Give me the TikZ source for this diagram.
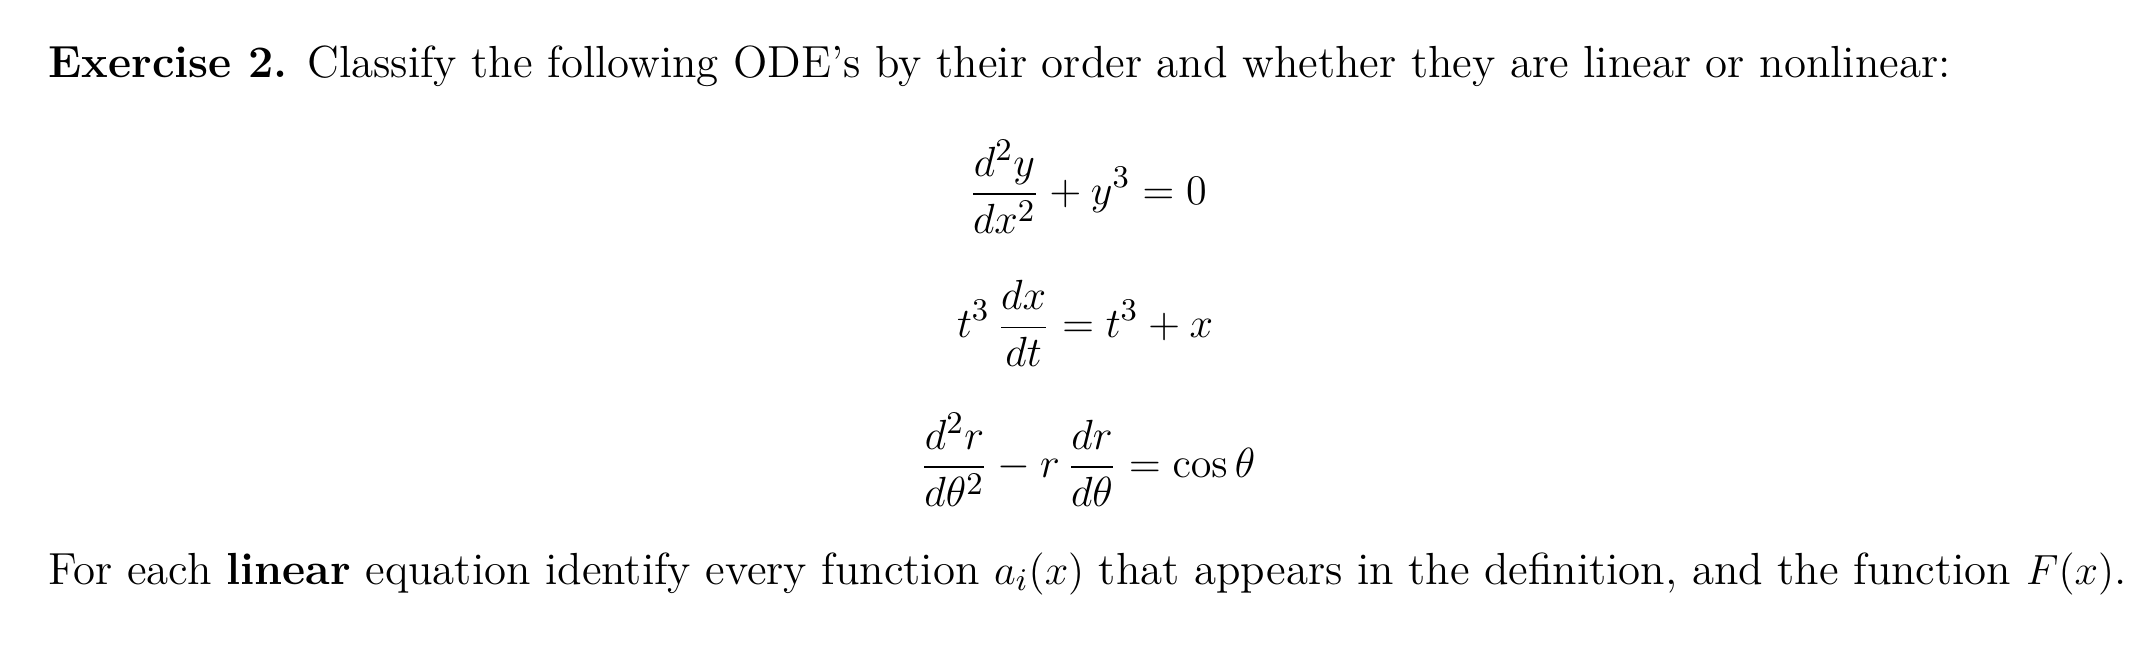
\documentclass[tikz,border=0pt]{standalone}
\usepackage{amsmath}
\begin{document}
\begin{tikzpicture}[x=0.01365cm,y=-0.01365cm,
  txt/.style={anchor=base west,inner sep=0pt,font=\fontsize{12.8}{15}\selectfont},
  eq/.style={anchor=center,inner sep=0pt,font=\fontsize{12.5}{15}\selectfont}]
\useasboundingbox (0,0) rectangle (1568,482);
\node[txt] (l1) at (35,57) {\textbf{Exercise 2.} Classify the following ODE's by their order and whether they are linear or nonlinear:};
\node[eq] (e1) at (797,137) {$\displaystyle \frac{d^2y}{dx^2}+y^3=0$};
\node[eq] (e2) at (795,237) {$\displaystyle t^3\,\frac{dx}{dt}=t^3+x$};
\node[eq] (e3) at (797,337) {$\displaystyle \frac{d^2r}{d\theta^2}-r\,\frac{dr}{d\theta}=\cos\theta$};
\node[txt] (l2) at (35,428) {For each \textbf{linear} equation identify every function $a_i(x)$ that appears in the definition, and the function $F(x)$.};
\end{tikzpicture}
\end{document}
